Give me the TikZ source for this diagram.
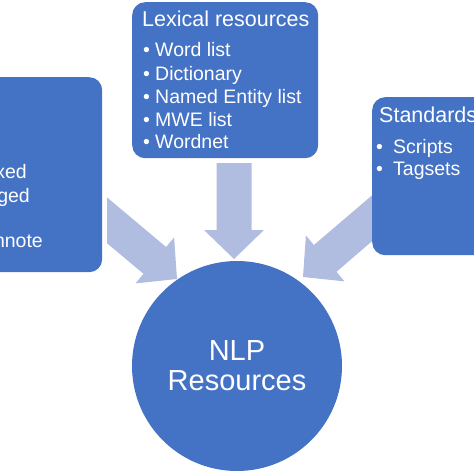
\documentclass[tikz,border=0pt]{standalone}
\usepackage{fontspec}
\setmainfont{Liberation Sans}
\definecolor{boxblue}{RGB}{68,114,196}
\definecolor{arrowblue}{RGB}{176,189,224}
\begin{document}
\begin{tikzpicture}[x=1pt,y=-1pt,
  box/.style={fill=boxblue, rounded corners=13pt, inner sep=0pt, anchor=north west},
  arr/.style={fill=arrowblue},
  ttl/.style={text=white, anchor=base west, inner sep=0pt, font=\fontsize{21.5}{24}\selectfont},
  itm/.style={text=white, anchor=base west, inner sep=0pt, font=\fontsize{19.5}{23}\selectfont},
  frag/.style={text=white, anchor=base east, inner sep=0pt, font=\fontsize{19.5}{23}\selectfont},
]
\useasboundingbox (0,0) rectangle (474,474);
\clip (0,0) rectangle (474,474);
% block arrows
\fill[arr] (107,197.4) -- (166.1,247.0) -- (174.1,237.4) -- (177,279) -- (135.5,283.4) -- (143.5,273.8) -- (107,243.2) -- cycle;
\fill[arr] (372,195.4) -- (313.9,245) -- (305.9,235.4) -- (303,277) -- (344.5,281.4) -- (336.5,271.8) -- (372,241.2) -- cycle;
\fill[arr] (216.5,163) -- (251.5,163) -- (251.5,230) -- (264,230) -- (234,259) -- (204,230) -- (216.5,230) -- cycle;
% boxes
\node[box, minimum width=186pt, minimum height=156pt] (lex) at (132,2) {};
\node[box, minimum width=122pt, minimum height=195pt] (corp) at (-20,77) {};
\node[box, minimum width=130pt, minimum height=158pt] (std) at (372,97) {};
% circle
\node[circle, fill=boxblue, minimum size=210pt, inner sep=0pt, text=white, align=center,
      font=\fontsize{29}{30}\selectfont] (nlp) at (237,366) {NLP\\Resources};
% lexical resources
\node[ttl] (lext) at (142,26) {Lexical resources};
\node[itm] (b1) at (143,56) {•};  \node[itm] (l1) at (155,56) {Word list};
\node[itm] (b2) at (143,80) {•};  \node[itm] (l2) at (155,80) {Dictionary};
\node[itm] (b3) at (143,103) {•}; \node[itm] (l3) at (155,103) {Named Entity list};
\node[itm] (b4) at (143,126) {•}; \node[itm] (l4) at (155,126) {MWE list};
\node[itm] (b5) at (143,148) {•}; \node[itm] (l5) at (155,148) {Wordnet};
% standards
\node[ttl] (stdt) at (379,122) {Standards};
\node[itm] (s1b) at (376,153) {•}; \node[itm] (s1) at (393,153) {Scripts};
\node[itm] (s2b) at (376,175) {•}; \node[itm] (s2) at (393,175) {Tagsets};
% left box fragments
\node[frag] (f1) at (27,178) {xed};
\node[frag] (f2) at (30,202) {ged};
\node[frag] (f3) at (43,247) {nnote};
\end{tikzpicture}
\end{document}
